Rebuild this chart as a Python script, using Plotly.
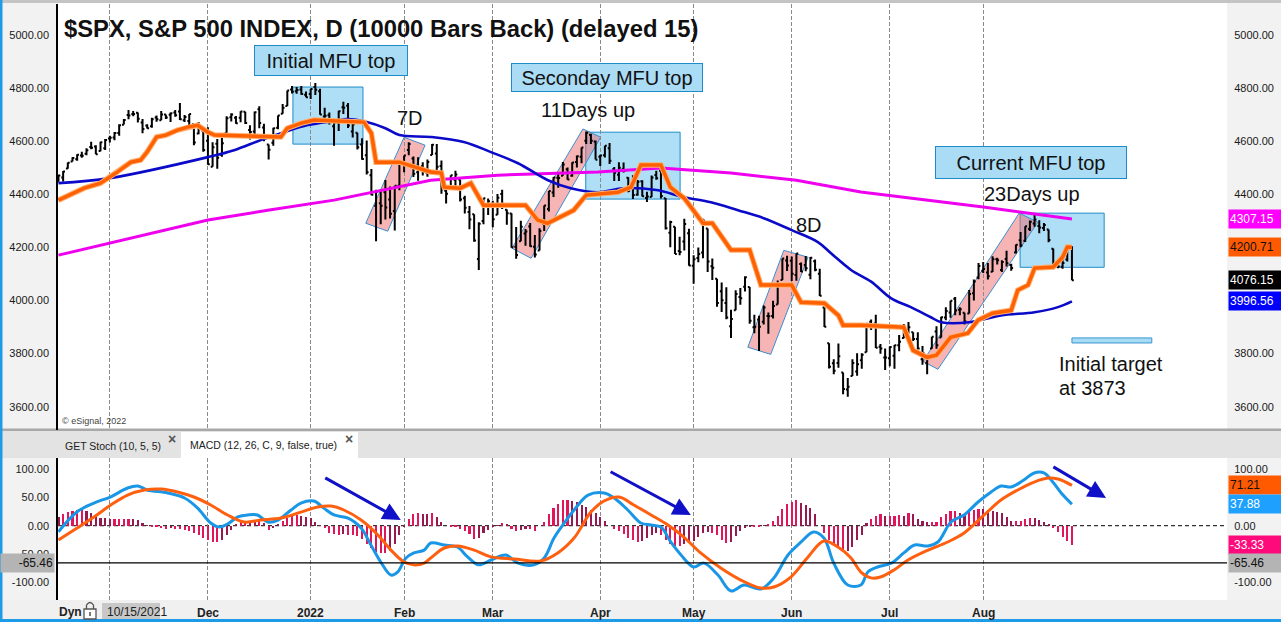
import plotly.graph_objects as go

W, H = 1281, 622
def px(x): return x / W
def py(y): return 1 - y / H

# ---------------- DATA ----------------
# trading-day index 0 = 10/15/2021 ; last bar = 8/26/2022
opens = [4447,4463,4497,4524,4532,4546,4553,4578,4580,4563,4573,
 4610,4614,4631,4662,4699,4702,4707,4670,4659,4656,4689,4679,4701,4700,4708,4712,4679,4676,4664,4629,4640,
 4602,4504,4590,4549,4631,4690,4688,4688,4711,4642,4637,4720,4652,4588,4594,4651,4703,4733,4795,4788,4795,4775,
 4778,4804,4788,4693,4698,4656,4670,4728,4734,4637,4632,4588,4547,4472,4357,4366,4408,4380,4337,4432,
 4519,4567,4535,4483,4506,4481,4548,4554,4507,4413,4430,4455,4456,4385,4333,4325,4156,4299,4355,
 4364,4323,4401,4342,4328,4202,4223,4252,4279,4202,4188,4288,4345,4407,4462,4470,4494,4470,4522,4541,4602,4624,4599,
 4541,4547,4573,4495,4474,4494,4462,4438,4398,4449,4386,4390,4473,4489,4385,4255,4278,4186,4222,4253,
 4131,4160,4181,4271,4129,4082,4035,3991,3903,3963,4013,4052,4051,3899,3928,3920,3942,3942,3985,4077,4151,
 4150,4096,4137,4134,4097,4148,4101,3974,3839,3764,3765,3729,3665,3716,3733,3775,3805,3920,3913,3826,3785,
 3782,3792,3831,3859,3888,3880,3855,3779,3764,3819,3883,3861,3936,3955,4007,3965,3954,3951,4027,4087,
 4112,4105,4108,4155,4115,4156,4134,4181,4227,4225,4269,4290,4281,4273,4267,4195,4134,4127,4154,4199]
highs = [4475,4488,4520,4540,4551,4560,4573,4598,4585,4598,4608,
 4621,4635,4664,4684,4718,4714,4708,4684,4664,4688,4697,4714,4701,4708,4718,4744,4699,4702,4664,4672,4646,
 4653,4596,4608,4613,4694,4705,4695,4713,4711,4660,4712,4732,4666,4588,4651,4697,4740,4791,4808,4804,4808,4787,
 4797,4819,4798,4726,4708,4672,4715,4749,4744,4666,4632,4611,4603,4495,4417,4411,4454,4429,4432,4517,
 4546,4596,4542,4540,4521,4531,4589,4589,4527,4427,4472,4489,4456,4395,4356,4325,4295,4385,4384,
 4376,4401,4417,4343,4329,4277,4300,4269,4292,4247,4272,4358,4412,4465,4481,4522,4501,4521,4546,4576,4637,4628,4603,
 4549,4583,4593,4503,4521,4520,4464,4472,4454,4453,4410,4471,4489,4513,4386,4300,4278,4240,4308,4270,
 4170,4200,4308,4271,4158,4082,4068,4050,3965,4039,4047,4091,4051,3946,3943,3981,3955,3999,4075,4158,4169,
 4166,4177,4143,4168,4164,4154,4120,3974,3839,3779,3838,3729,3708,3779,3801,3801,3914,3928,3946,3836,3819,
 3827,3832,3870,3911,3919,3880,3880,3829,3796,3863,3903,3939,3975,3999,4013,3975,3954,4040,4079,4141,
 4145,4141,4167,4161,4152,4187,4138,4211,4258,4280,4301,4326,4302,4292,4267,4196,4150,4156,4200,4204]
lows = [4447,4448,4496,4524,4526,4538,4547,4570,4551,4562,4567,
 4595,4604,4621,4663,4683,4694,4670,4630,4648,4651,4673,4679,4684,4672,4692,4680,4672,4660,4585,4626,4560,
 4511,4504,4496,4541,4631,4674,4666,4671,4665,4606,4612,4649,4600,4531,4583,4645,4703,4733,4780,4779,4775,4766,
 4759,4774,4700,4671,4663,4583,4638,4702,4650,4614,4569,4530,4475,4396,4223,4287,4305,4309,4264,4415,
 4483,4547,4465,4451,4471,4466,4548,4477,4402,4365,4430,4430,4373,4328,4268,4221,4115,4287,4322,
 4276,4323,4345,4285,4199,4157,4223,4206,4202,4162,4188,4262,4335,4390,4425,4470,4455,4466,4501,4517,4589,4589,4531,
 4507,4539,4514,4450,4450,4482,4408,4382,4395,4392,4371,4390,4455,4384,4267,4201,4175,4170,4188,4131,
 4063,4144,4159,4107,4077,3976,3957,3929,3859,3963,3984,4034,3912,3877,3810,3910,3875,3932,3985,4077,4111,
 4073,4074,4107,4110,4080,4110,4017,3900,3744,3722,3747,3647,3637,3716,3717,3743,3805,3889,3821,3799,3738,
 3752,3743,3809,3858,3876,3847,3815,3758,3722,3818,3818,3861,3926,3935,3944,3944,3910,3951,4000,4080,
 4104,4079,4107,4136,4107,4128,4112,4177,4201,4220,4262,4278,4253,4262,4219,4130,4121,4120,4147,4076]
closes = [4471,4486,4519,4537,4549,4545,4566,4575,4551,4596,4605,
 4613,4631,4660,4680,4697,4702,4685,4646,4649,4683,4683,4701,4689,4705,4698,4683,4691,4702,4595,4655,4567,
 4513,4577,4538,4592,4686,4701,4668,4712,4669,4635,4709,4669,4621,4568,4649,4697,4726,4791,4786,4793,4778,4766,
 4797,4794,4701,4696,4677,4670,4713,4726,4659,4663,4577,4533,4483,4398,4410,4357,4350,4327,4432,4516,
 4546,4589,4477,4501,4484,4522,4587,4504,4419,4402,4472,4475,4380,4349,4305,4226,4289,4385,4374,
 4306,4387,4364,4329,4201,4171,4278,4260,4204,4173,4262,4358,4412,4463,4461,4512,4456,4520,4543,4576,4632,4602,4530,
 4546,4583,4526,4481,4500,4488,4413,4397,4447,4393,4392,4463,4460,4394,4272,4296,4175,4183,4288,4132,
 4155,4175,4301,4147,4123,3991,4001,3936,3930,4024,4008,4088,3924,3901,3901,3974,3941,3979,4058,4158,4132,
 4101,4177,4109,4121,4161,4116,4018,3901,3750,3735,3790,3667,3675,3765,3760,3796,3912,3901,3822,3819,3785,
 3825,3831,3845,3903,3899,3855,3819,3802,3790,3863,3831,3937,3960,3999,3962,3967,3921,4024,4072,4130,
 4119,4091,4155,4152,4145,4140,4122,4210,4207,4280,4297,4305,4275,4284,4228,4138,4128,4141,4200,4076.15]

# overlay lines (bar index, value)
orange_idx = [0,5.5,9,12.3,15.5,17.6,19,21,23,25.5,27.6,29.8,32,33.4,47.6,49,52,54.7,65.4,67,68,73,79.7,82,82.6,86,88.3,91,100,
              102.6,104.7,107.5,110.3,113,119.8,122.6,124.7,129,131,134,136,138,140,144,148,150.4,157,159,164,167,168,172,
              181,183,186,188,191,194.7,196.9,200,204,205.4,207.6,209,213,215,216,217]
orange_val = [4378,4423,4442,4480,4521,4529,4560,4616,4623,4642,4653,4660,4634,4623,4616,4649,4668,4680,4672,4630,4521,4521,4484,4480,4427,4423,4442,4359,4359,
              4303,4291,4314,4340,4397,4408,4427,4510,4510,4427,4385,4340,4291,4291,4190,4190,4058,4058,3993,3990,3944,3907,3907,
              3899,3812,3786,3794,3861,3877,3926,3952,3963,4039,4058,4122,4126,4163,4201,4200.71]
ma50_idx = [0,11,32,37.6,43.3,48.3,53.4,59,62,66,70,73,79.7,86.8,92.6,98.4,104.8,109.7,115.5,121,128,134,139.7,145.5,151,157,
            162.6,165.4,169.7,174,178.3,182.5,186.8,189,195,201.8,209,214,217]
ma50_val = [4442,4461,4540,4566,4604,4634,4661,4676,4683,4672,4649,4623,4616,4597,4559,4517,4453,4423,4408,4423,4416,4389,4370,4340,4310,4265,
            4220,4178,4115,4071,4008,3975,3937,3918,3918,3944,3956,3975,3996.56]
ma200_idx = [0,11,32,44.8,59,79.7,94,115.5,129,144,158,171.8,198,217]
ma200_val = [4171,4216,4303,4340,4378,4453,4472,4484,4499,4480,4453,4409,4352,4307.15]

macd_idx = [0,4,7.6,11.2,14.8,17,19,23.4,27,29.8,32.6,34.4,36.2,38.4,40.5,42.6,44.8,47,49.8,51.9,54.7,56.8,59,62,64.8,66.9,69,71.2,72.6,
            74.4,76.1,78.3,79.7,82.6,85.4,87.6,90,92.6,95.8,98.4,101.8,104,106.1,108.3,110.4,113.4,116.8,119,121.9,124.7,126.9,129,131.1,
            133.3,136,138.2,141.2,144,146.8,150.4,153.2,156.2,159,161.7,163.9,166,169,171.8,173.3,175.4,178.3,181,183.3,186.2,188.3,191.1,
            193.9,196.9,199.7,201.8,204,206.7,208.9,211,212.9,214.7,217]
macd_val = [-10.6,24.7,40,51,66.5,70,63,57.7,48.8,31,4.8,-2.3,3,15.4,18.9,18.9,6.5,10,27.7,40,43.6,31,18.9,13.5,-4,-34,-64,-87,-81.7,
            -57,-48,-43,-30.5,-34,-37.6,-55,-69,-60.5,-51.7,-66,-69,-57,-21.7,4.8,27.7,54,57.7,48.8,27.7,4.8,1.2,-2.3,-28.7,
            -51.7,-72.8,-66,-87,-115,-104.6,-111.6,-92,-51.7,-28.7,-11,-21.7,-66,-104.6,-104.6,-81.7,-72.8,-66,-48,-34,-35.8,-28.7,6.5,
            18.9,41.8,59.5,70,68.3,80.6,93,93,77,57.7,37.88]
signal_idx = [0,4,7.6,11.2,14.8,18.4,22,25.5,29,32.6,36.2,39.8,43.3,47.6,51.9,55.5,58.3,61.1,64.8,68.4,71.2,74,76.1,78.3,79.7,82.6,85.4,
              89,92.6,97.6,103.3,106.9,110.4,114,116.8,120,123.2,126.9,130.5,133.9,137.5,141.8,146.1,150.4,153.2,156.8,160.5,163.9,166.9,
              169.7,171.8,174,176,178.9,181.9,186.2,190.4,193.9,198.2,201.8,205.4,208.9,211.9,214,217]
signal_val = [-25,-4,15.4,36.5,54,63,64.7,59.5,50.6,36.5,18.9,6.5,10,13.5,24,33,34.7,27.7,10,-16.4,-43,-64,-69,-66,-57,-39.3,-35.8,
              -43,-55,-58.7,-62,-48,-21.7,24,43.6,50.6,36.5,18.9,1.2,-20,-48,-74.6,-95.8,-109.9,-108,-90.5,-55,-27,-37.6,
              -57,-81.7,-92,-90.5,-78,-60.5,-43,-28.7,-12.9,18.9,45.3,63,77,84,82.4,71.21]
hist = [16,20,23.5,26,27.6,27.6,26,22,17,14,13,12,12,12,12,12,11,10,5,1,-2,-3,-4,-5,-4,-5,-6,-7,-9,-13,
        -17,-21,-26,-29,-29,-25,-16,-7,2,8,9,8,7,9,5,-8,-4,2,8,13,17,19,18,16,13,7,1,-4,-12,-15,
        -16,-15,-16,-17,-19,-24,-32,-40,-46,-48,-48,-45,-33,-17,-2,12,20,22,21,20,
        22,15,6,0,-1,-2,-5,-9,-15,-23,-21,-12,-7,-3,1,5,3,-6,-9,-7,-5,-6,-9,0,6,20,31,39,45,45,
        44,42,37,33,28,22,16,9,0,-5,-10,-15,-21,-26,-28,-27,-22,-16,-12,-16,-26,-33,-36,-36,-32,-31,-27,-20,-13,-11,
        -12,-16,-25,-30,-28,-19,-10,-4,-3,-3,-3,1,3,8,17,30,38,42,45,40,36,31,20,0,-13,-25,-34,-40,-46,-44,
        -38,-25,-17,4,12,17,20,18,18,18,19,18,22,20,12,8,6,6,7,15,20,26,26,22,21,25,28,30,29,27,
        26,24,22,16,9,9,9,11,14,13,10,6,2,-4,-11,-20,-27,-33.33]

month_idx = [11, 32, 54, 74, 93, 116, 136, 157, 178, 198]
month_lbl = ["Nov", "Dec", "2022", "Feb", "Mar", "Apr", "May", "Jun", "Jul", "Aug"]
price_ticks = [3600, 3800, 4000, 4200, 4400, 4600, 4800, 5000]
price_ticks_right = [3600, 3800, 4400, 4600, 4800, 5000]
macd_ticks_left = [100, 50, 0, -50, -100]
macd_ticks_right = [100, 0, -100]

# ---------------- FIGURE ----------------
FONT = "Liberation Sans, Arial, sans-serif"
bars_x = list(range(len(closes)))
fig = go.Figure()

fig.add_trace(go.Ohlc(x=bars_x, open=opens, high=highs, low=lows, close=closes,
                      increasing=dict(line=dict(color="black", width=2)),
                      decreasing=dict(line=dict(color="black", width=2)),
                      tickwidth=0.4, xaxis="x", yaxis="y", showlegend=False))
fig.add_trace(go.Scatter(x=ma200_idx, y=ma200_val, mode="lines",
                         line=dict(color="#ee00ee", width=3), xaxis="x", yaxis="y", showlegend=False))
fig.add_trace(go.Scatter(x=ma50_idx, y=ma50_val, mode="lines", line_shape="spline",
                         line=dict(color="#0a0ac8", width=2.6), xaxis="x", yaxis="y", showlegend=False))
fig.add_trace(go.Scatter(x=orange_idx, y=orange_val, mode="lines",
                         line=dict(color="#ffb070", width=5.5), xaxis="x", yaxis="y", showlegend=False))
fig.add_trace(go.Scatter(x=orange_idx, y=orange_val, mode="lines",
                         line=dict(color="#ff6000", width=3.5), xaxis="x", yaxis="y", showlegend=False))

hist_colors = ["#e0155a" if (i > 0 and abs(hist[i]) >= abs(hist[i - 1])) else "#96194f" for i in range(len(hist))]
fig.add_trace(go.Bar(x=bars_x, y=hist, marker=dict(color=hist_colors, line=dict(width=0)), width=0.45,
                     xaxis="x2", yaxis="y2", showlegend=False))
fig.add_trace(go.Scatter(x=macd_idx, y=macd_val, mode="lines", line_shape="spline",
                         line=dict(color="#1a96e6", width=3), xaxis="x2", yaxis="y2", showlegend=False))
fig.add_trace(go.Scatter(x=signal_idx, y=signal_val, mode="lines", line_shape="spline",
                         line=dict(color="#ff6010", width=3), xaxis="x2", yaxis="y2", showlegend=False))

XR = [-0.1, 250.2]
PR = [3512.2, 5116.8]
MR = [-131.0, 119.4]
xdom = [px(58), px(1227)]
grid = dict(showgrid=True, gridcolor="#8a8a8a", griddash="4px,2px", gridwidth=1, tickvals=month_idx,
            showticklabels=False, zeroline=False, showline=False, ticks="")
tickfont = dict(family=FONT, size=11, color="#1a1a1a")

fig.update_layout(
    width=W, height=H, margin=dict(l=0, r=0, t=0, b=0),
    paper_bgcolor="white", plot_bgcolor="white", bargap=0, showlegend=False,
    xaxis=dict(domain=xdom, range=XR, anchor="y", rangeslider=dict(visible=False), **grid),
    xaxis2=dict(domain=xdom, range=XR, anchor="y2", **grid),
    yaxis=dict(domain=[py(430), py(4)], range=PR, side="left", anchor="x",
               tickvals=price_ticks, ticktext=[f"{v:.2f}" for v in price_ticks],
               showgrid=False, zeroline=False, showline=True, linecolor="black", linewidth=1.5,
               ticks="outside", ticklen=5, tickcolor="rgba(0,0,0,0)", tickfont=tickfont),
    yaxis3=dict(overlaying="y", range=PR, side="right", anchor="x",
                tickvals=price_ticks_right, ticktext=[f"{v:.2f}" for v in price_ticks_right],
                showgrid=False, zeroline=False, showline=False,
                ticks="outside", ticklen=4, tickcolor="rgba(0,0,0,0)", tickfont=tickfont),
    yaxis2=dict(domain=[py(600), py(458)], range=MR, side="left", anchor="x2",
                tickvals=macd_ticks_left, ticktext=[f"{v:.2f}" for v in macd_ticks_left],
                showgrid=False, zeroline=False, showline=True, linecolor="black", linewidth=1.5,
                ticks="outside", ticklen=5, tickcolor="rgba(0,0,0,0)", tickfont=tickfont),
    yaxis4=dict(overlaying="y2", range=MR, side="right", anchor="x2",
                tickvals=macd_ticks_right, ticktext=[f"{v:.2f}" for v in macd_ticks_right],
                showgrid=False, zeroline=False, showline=False,
                ticks="outside", ticklen=4, tickcolor="rgba(0,0,0,0)", tickfont=tickfont),
)
# invisible anchors for right axes
fig.add_trace(go.Scatter(x=[0], y=[4000], mode="markers", marker=dict(opacity=0), xaxis="x", yaxis="y3",
                         hoverinfo="skip", showlegend=False))
fig.add_trace(go.Scatter(x=[0], y=[0], mode="markers", marker=dict(opacity=0), xaxis="x2", yaxis="y4",
                         hoverinfo="skip", showlegend=False))

shapes = []
def prect(x0, y0, x1, y1, color, line=None):
    shapes.append(dict(type="rect", xref="paper", yref="paper", x0=px(x0), x1=px(x1), y0=py(y1), y1=py(y0),
                       fillcolor=color, line=dict(width=0) if line is None else line, layer="below"))

prect(0, 0, 58, 622, "#f2f2f2")
prect(1227, 0, 1281, 622, "#f2f2f2")
prect(0, 430, 1281, 458, "#e3e3e3")
prect(181, 432, 358, 458, "white")
prect(0, 600, 1281, 620, "#f0f0f0")
prect(102, 603, 160, 620, "#c8c8c8")
prect(0, 0, 1281, 3, "#c4c4c4")
prect(0, 428.5, 1281, 431, "#a8a8a8")
prect(0, 0, 2.5, 622, "#1e9be6")
prect(0, 619, 1281, 622, "#1e9be6")
# lock icon
shapes.append(dict(type="rect", xref="paper", yref="paper", x0=px(84), x1=px(96), y0=py(619), y1=py(609),
                   line=dict(color="#555", width=1.3), fillcolor="white", layer="above"))
shapes.append(dict(type="path", xref="paper", yref="paper",
                   path=f"M {px(86.5)},{py(609)} L {px(86.5)},{py(605)} Q {px(90)},{py(600)} {px(93.5)},{py(605)} L {px(93.5)},{py(609)}",
                   line=dict(color="#555", width=1.3), layer="above"))
shapes.append(dict(type="rect", xref="paper", yref="paper", x0=px(89.2), x1=px(90.8), y0=py(616), y1=py(612),
                   line=dict(width=0), fillcolor="#555", layer="above"))

# MFU rectangles (data coords)
mfu_fill = "rgba(110,195,240,0.55)"
mfu_line = dict(color="#1e8cc8", width=1)
for (a, b, lo, hi) in [(50.2, 65.2, 4589, 4804), (112.9, 133.1, 4382, 4634), (205.9, 223.9, 4125, 4329)]:
    shapes.append(dict(type="rect", xref="x", yref="y", x0=a, x1=b, y0=lo, y1=hi,
                       fillcolor=mfu_fill, line=mfu_line, layer="below"))
shapes.append(dict(type="rect", xref="x", yref="y", x0=217.0, x1=234.1, y0=3840, y1=3859,
                   fillcolor="#a8dcf5", line=dict(color="#3c96d2", width=1), layer="above"))
# rising channels
pink = "rgba(240,105,105,0.5)"
for pts in [[(65.8, 4291), (74.0, 4615), (78.5, 4585), (70.5, 4261)],
            [(97.1, 4197), (112.3, 4646), (116.1, 4615), (101.2, 4159)],
            [(147.6, 3824), (155.3, 4189), (160.5, 4163), (152.5, 3797)],
            [(185.1, 3771), (205.7, 4329), (209.7, 4295), (188.3, 3741)]]:
    path = "M " + " L ".join(f"{a},{b}" for a, b in pts) + " Z"
    shapes.append(dict(type="path", xref="x", yref="y", path=path, fillcolor=pink,
                       line=dict(color="#3a8fd0", width=1), layer="below"))
# MACD reference lines
shapes.append(dict(type="line", xref="paper", yref="y2", x0=px(58), x1=px(1227), y0=0, y1=0,
                   line=dict(color="black", width=1, dash="4px,3px"), layer="below"))
shapes.append(dict(type="line", xref="paper", yref="y2", x0=px(58), x1=px(1227), y0=-65.46, y1=-65.46,
                   line=dict(color="black", width=1.2), layer="above"))
fig.update_layout(shapes=shapes)

ann = []
def text(x, y, s, size=20, anchor="center", bold=False, color="#111", yanchor="middle"):
    ann.append(dict(xref="paper", yref="paper", x=px(x), y=py(y), text=f"<b>{s}</b>" if bold else s,
                    showarrow=False, xanchor=anchor, yanchor=yanchor,
                    font=dict(family=FONT, size=size, color=color)))

def label_box(cx, cy, w, h, s):
    ann.append(dict(xref="paper", yref="paper", x=px(cx), y=py(cy), text=s, showarrow=False,
                    xanchor="center", yanchor="middle", width=w - 2, height=h - 2, borderpad=0,
                    bgcolor="#aadcf5", bordercolor="#1e8cc8", borderwidth=1,
                    font=dict(family=FONT, size=20, color="#111")))

def val_box(yref, v, s, bg, fc):
    ann.append(dict(xref="paper", yref=yref, x=px(1227.5), y=v, text=s, showarrow=False,
                    xanchor="left", yanchor="middle", width=50, height=16, borderpad=1, align="left",
                    bgcolor=bg, font=dict(family=FONT, size=12, color=fc)))

text(62, 29, "$SPX, S&amp;P 500 INDEX, D (10000 Bars Back) (delayed 15)", size=23.8, anchor="left", bold=True)
label_box(331, 60.5, 154, 31, "Initial MFU top")
label_box(607, 77.5, 192, 29, "Seconday MFU top")
label_box(1031, 162.5, 192, 33, "Current MFU top")
text(588, 110, "11Days up")
text(1032, 194, "23Days up")
text(410, 118, "7D")
text(809, 225, "8D")
text(1057, 364, "Initial target", anchor="left")
text(1057, 388, "at 3873", anchor="left")
text(60, 421, "© eSignal, 2022", size=9, anchor="left", color="#444")

val_box("y", 4307.15, "4307.15", "#ff00ff", "white")
val_box("y", 4200.71, "4200.71", "#ff5a00", "#111")
val_box("y", 4076.15, "4076.15", "#000000", "white")
val_box("y", 3996.56, "3996.56", "#0000ff", "white")
val_box("y2", 71.21, "71.21", "#ff5a00", "#111")
val_box("y2", 37.88, "37.88", "#1ea0ff", "white")
val_box("y2", -33.33, "-33.33", "#ff0a7a", "white")
val_box("y2", -65.46, "-65.46", "#b4b4b4", "#111")
ann.append(dict(xref="paper", yref="y2", x=px(55), y=-65.46, text="-65.46", showarrow=False,
                xanchor="right", yanchor="middle", width=51, height=16, borderpad=1, align="right",
                bgcolor="#b4b4b4", font=dict(family=FONT, size=12, color="#111")))

# tabs
text(63, 446, "GET Stoch (10, 5, 5)", size=10.5, anchor="left", color="#222")
text(172, 439, "×", size=14, bold=True, color="#555")
text(188, 445, "MACD (12, 26, C, 9, false, true)", size=10.5, anchor="left", color="#222")
text(349, 439, "×", size=14, bold=True, color="#555")

# date axis
text(57, 612, "Dyn", size=12, anchor="left", bold=True, color="#222")
text(105, 612, "10/15/2021", size=12, anchor="left", color="#222")
for i, lbl in zip(month_idx[1:], month_lbl[1:]):
    ann.append(dict(xref="x2", yref="paper", x=i, y=py(613), text=f"<b>{lbl}</b>", showarrow=False,
                    xanchor="center", yanchor="middle", font=dict(family=FONT, size=12, color="#222")))

# arrows in MACD panel
for (xa, ya, xb, yb) in [(56.8, 85.9, 73.3, 10), (117.9, 96.5, 135.4, 18.9), (212.7, 105.3, 224.3, 48.9)]:
    ann.append(dict(xref="x2", yref="y2", axref="x2", ayref="y2", x=xb, y=yb, ax=xa, ay=ya, text="",
                    showarrow=True, arrowhead=2, arrowsize=1.2, arrowwidth=3, arrowcolor="#1010c8"))

fig.update_layout(annotations=ann)
fig.write_html("out.html")
